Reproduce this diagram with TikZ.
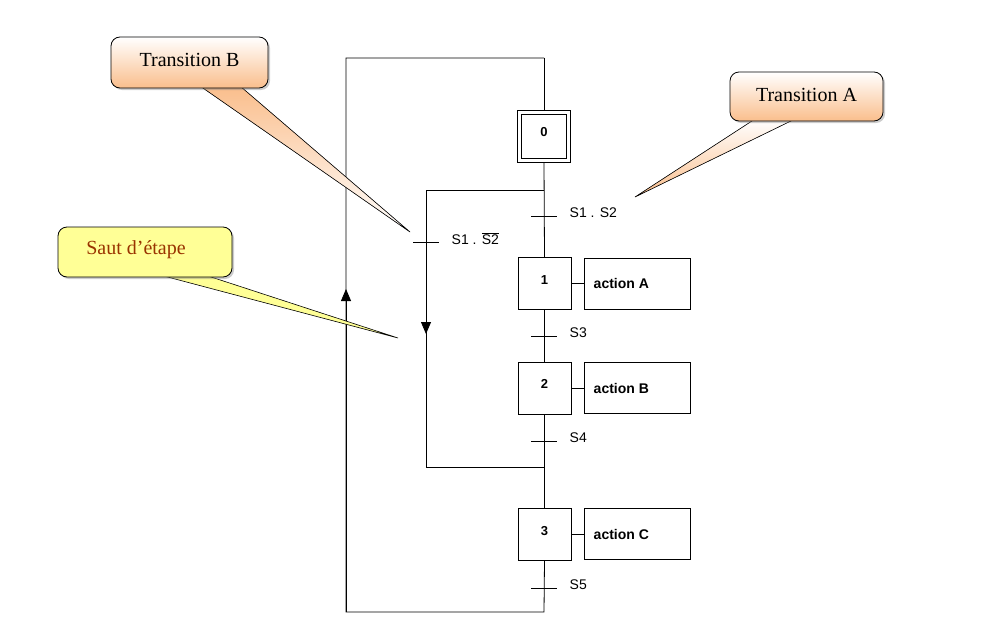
\documentclass[tikz,border=0pt]{standalone}
\usepackage{fontspec}
\setmainfont{Liberation Sans}
\newfontfamily\tms{Liberation Serif}
\usetikzlibrary{arrows.meta,shadows}
\definecolor{peach}{RGB}{250,190,140}
\definecolor{lyel}{RGB}{255,255,150}
\definecolor{dred}{RGB}{153,51,0}
\begin{document}
\begin{tikzpicture}[x=1pt,y=-1pt,line width=0.8pt,
  etape/.style={draw,minimum width=53pt,minimum height=52pt,inner sep=0pt},
  act/.style={draw,minimum width=106pt,minimum height=51pt,inner sep=0pt},
  num/.style={font=\fontsize{13}{15}\selectfont\bfseries},
  atxt/.style={font=\fontsize{14}{16}\selectfont\bfseries},
  ttxt/.style={font=\fontsize{14}{16}\selectfont,anchor=west},
  callA/.style={draw,rounded corners=9pt,drop shadow={shadow xshift=2pt,shadow yshift=-2pt,opacity=0.4}},
  ctxt/.style={font=\tms\fontsize{20}{22}\selectfont}]
\useasboundingbox (0,0) rectangle (995,634);
% steps
\node[etape] (s0) at (544,136.5) {};
\node[draw,minimum width=45pt,minimum height=44pt,inner sep=0pt] (s0i) at (544,136.5) {};
\node[num] at (544,132) {0};
\node[etape] (s1) at (544.5,283.5) {};
\node[num] at (544.5,280) {1};
\node[etape] (s2) at (544.5,388) {};
\node[num] at (544.5,384) {2};
\node[etape] (s3) at (544.5,534) {};
\node[num] at (544.5,531) {3};
\node[act] (a1) at (637,283.5) {};
\node[atxt,anchor=west] at (590,283.5) {action A};
\node[act] (a2) at (637,388) {};
\node[atxt,anchor=west] at (590,388) {action B};
\node[act] (a3) at (637,534) {};
\node[atxt,anchor=west] at (590,534) {action C};
\draw (s1.east) -- (a1.west);
\draw (s2.east) -- (a2.west);
\draw (s3.east) -- (a3.west);
% main line
\coordinate (top) at (544,58);
\coordinate (bot) at (544,612);
\coordinate (tl) at (346,58);
\coordinate (bl) at (346,612);
\coordinate (arU) at (346,289);
\draw (top) -- (s0.north);
\draw (s0.south) -- (s1.north);
\draw (s1.south) -- (s2.north);
\draw (s2.south) -- (s3.north);
\draw (s3.south) -- (bot) -- (bl) -- (tl) -- (top);
\draw[-{Triangle[width=10pt,length=12pt]}] (bl) -- (arU);
% branch
\coordinate (b1) at (544,190);
\coordinate (b2) at (426,190);
\coordinate (b3) at (426,467);
\coordinate (b4) at (544,467);
\coordinate (arD) at (426,334);
\draw (b1) -- (b2) -- (b3) -- (b4);
\draw[-{Triangle[width=10pt,length=12pt]}] (b2) -- (arD);
% transitions
\foreach \x/\y/\t in {544/216/{S1 . S2},426/242/{S1 . $\overline{\mbox{S2}}$},544/336/S3,544/441/S4,544/588/S5}{
  \draw (\x-13,\y) -- (\x+13,\y);
  \node[ttxt] at (\x+22,\y-3) {\t};
}
% callouts
\fill[top color=peach,bottom color=white,draw=black,line width=0.6pt] (200,86) -- (410,232) -- (240,86) -- cycle;
\node[callA,top color=white,bottom color=peach,minimum width=157pt,minimum height=51pt] (cB) at (189.5,62.5) {};
\node[ctxt] at (189.5,60) {Transition B};
\fill[top color=white,bottom color=peach,draw=black,line width=0.6pt] (755,119) -- (635,197) -- (795,119) -- cycle;
\node[callA,top color=white,bottom color=peach,minimum width=153pt,minimum height=49pt] (cA) at (806.5,96.5) {};
\node[ctxt] at (806.5,95) {Transition A};
\fill[fill=lyel,draw=black,line width=0.6pt] (160,275) -- (398,338) -- (205,275) -- cycle;
\node[callA,fill=lyel,minimum width=174pt,minimum height=50pt] (cS) at (145,252) {};
\node[ctxt,text=dred] at (136,250) {Saut d’étape};
\end{tikzpicture}
\end{document}
